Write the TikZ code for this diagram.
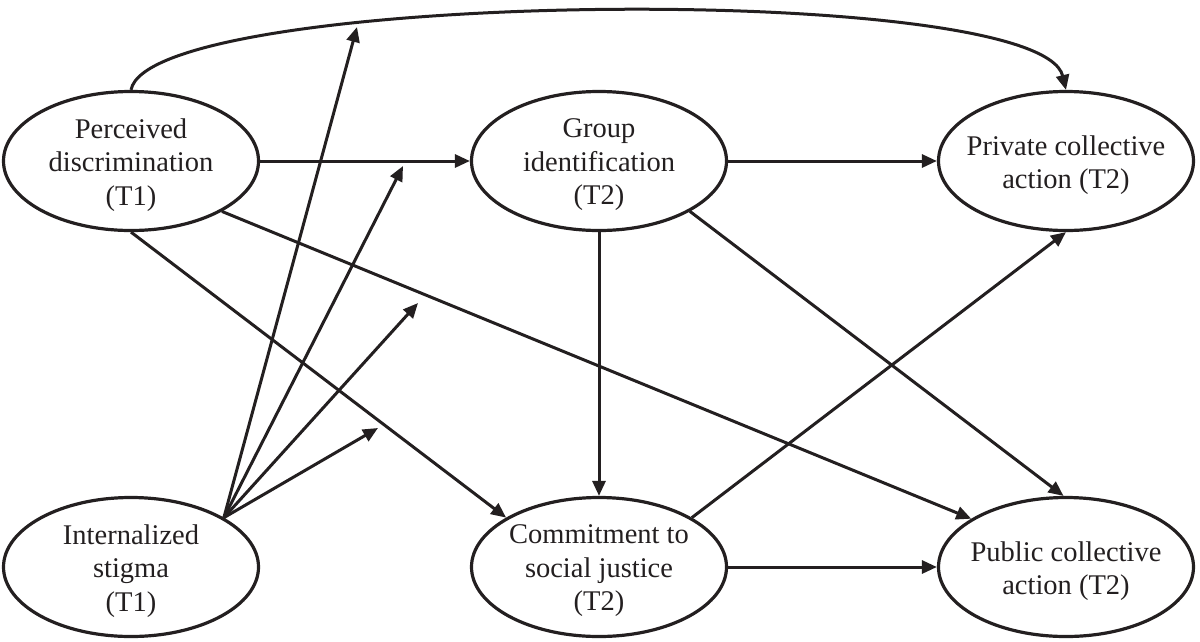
\documentclass[tikz,border=0pt]{standalone}
\usepackage{fontspec}
\setmainfont{Liberation Serif}
\usetikzlibrary{arrows.meta,shapes.geometric}
\definecolor{ink}{HTML}{231F20}
\begin{document}
\begin{tikzpicture}[x=1pt,y=-1pt,
  ell/.style={draw=ink,line width=3.2pt,ellipse,minimum width=255pt,minimum height=139pt,inner sep=0pt},
  lbl/.style={align=center,font=\fontsize{28.5}{33.5}\selectfont,text=ink,inner sep=0pt,yshift=-4pt},
  arr/.style={draw=ink,line width=3pt,-{Triangle[length=15pt,width=13pt]}}]
\useasboundingbox (0,0) rectangle (1200,641);
% ellipses
\node[ell] (pd)  at (131,161) {};
\node[ell] (gi)  at (599,161) {};
\node[ell] (pca) at (1066,161) {};
\node[ell] (is)  at (131,567) {};
\node[ell] (csj) at (599,567) {};
\node[ell] (pub) at (1066,567) {};
% labels
\node[lbl] (pdt)  at (pd)  {Perceived\\discrimination\\(T1)};
\node[lbl] (git)  at (gi)  {Group\\identification\\(T2)};
\node[lbl] (pcat) at (pca) {Private collective\\action (T2)};
\node[lbl] (ist)  at (is)  {Internalized\\stigma\\(T1)};
\node[lbl] (csjt) at (csj) {Commitment to\\social justice\\(T2)};
\node[lbl] (pubt) at (pub) {Public collective\\action (T2)};
% free ends of moderation arrows
\coordinate (f1) at (357,27);
\coordinate (f2) at (403,166);
\coordinate (f3) at (418,303);
\coordinate (f4) at (378,428);
% connectors
\draw[arr] (pd.east) -- (gi.west);
\draw[arr] (gi.east) -- (pca.west);
\draw[arr] (csj.east) -- (pub.west);
\draw[arr] (gi.south) -- (csj.north);
\draw[arr] (gi.-29) -- (pub.92);
\draw[arr] (pd.south) -- (csj.152);
\draw[arr] (pd.-29) -- (pub.153);
\draw[arr] (csj.28) -- (pca.south);
\draw[arr] (pd.north) .. controls (150,-10) and (1040,-20) .. (pca.north);
\draw[arr] (is.28) -- (f1);
\draw[arr] (is.28) -- (f2);
\draw[arr] (is.28) -- (f3);
\draw[arr] (is.28) -- (f4);
\end{tikzpicture}
\end{document}
